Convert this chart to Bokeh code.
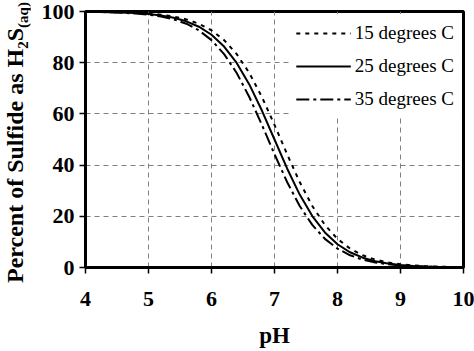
from bokeh.plotting import figure
from bokeh.layouts import row
from bokeh.models import Legend, LegendItem, Range1d, FixedTicker, Div
from bokeh.embed import file_html
from bokeh.resources import INLINE

# ---- data ----
ph = [4.0, 4.2, 4.4, 4.6, 4.8, 5.0, 5.2, 5.4, 5.6, 5.8, 6.0, 6.2, 6.4, 6.6, 6.8,
      7.0, 7.2, 7.4, 7.6, 7.8, 8.0, 8.2, 8.4, 8.6, 8.8, 9.0, 9.2, 9.4, 9.6, 9.8, 10.0]
pct_15 = [99.92, 99.87, 99.80, 99.68, 99.50, 99.21, 98.76, 98.04, 96.93, 95.23, 92.64,
          88.82, 83.37, 75.98, 66.61, 55.73, 44.27, 33.39, 24.02, 16.63, 11.18, 7.36,
          4.77, 3.07, 1.96, 1.24, 0.79, 0.50, 0.32, 0.20, 0.13]
pct_25 = [99.90, 99.84, 99.75, 99.60, 99.37, 99.01, 98.44, 97.55, 96.17, 94.06, 90.91,
          86.32, 79.92, 71.53, 61.31, 50.00, 38.69, 28.47, 20.08, 13.68, 9.09, 5.94,
          3.83, 2.45, 1.56, 0.99, 0.63, 0.40, 0.25, 0.16, 0.10]
pct_35 = [99.87, 99.80, 99.68, 99.50, 99.21, 98.76, 98.04, 96.93, 95.23, 92.64, 88.82,
          83.37, 75.98, 66.61, 55.73, 44.27, 33.39, 24.02, 16.63, 11.18, 7.36, 4.77,
          3.07, 1.96, 1.24, 0.79, 0.50, 0.32, 0.20, 0.13, 0.08]
series_names = ["15 degrees C", "25 degrees C", "35 degrees C"]
x_ticks = [4, 5, 6, 7, 8, 9, 10]
y_ticks = [0, 20, 40, 60, 80, 100]
x_title = "pH"
y_title_main = "Percent of Sulfide as H"
y_title_sub1 = "2"
y_title_mid = "S"
y_title_sub2 = "(aq)"

SERIF = "Liberation Serif"
LABEL_W = 30
H = 351

p = figure(width=474 - LABEL_W, height=H, output_backend="svg", toolbar_location=None,
           x_range=Range1d(4, 10), y_range=Range1d(0, 100),
           min_border_left=85 - LABEL_W, min_border_right=11, min_border_top=11,
           min_border_bottom=84)
p.background_fill_color = "white"
p.border_fill_color = "white"
p.outline_line_color = "black"
p.outline_line_width = 3

for ax in (p.xaxis[0], p.yaxis[0]):
    ax.axis_line_width = 3
    ax.axis_line_color = "black"
    ax.major_tick_out = 6
    ax.major_tick_in = 0
    ax.major_tick_line_width = 1.5
    ax.minor_tick_line_color = None
    ax.major_label_text_font = SERIF
    ax.major_label_text_font_style = "bold"
    ax.major_label_text_font_size = "22px"
    ax.major_label_text_color = "black"
p.xaxis.ticker = FixedTicker(ticks=x_ticks)
p.yaxis.ticker = FixedTicker(ticks=y_ticks)
p.xaxis.major_label_standoff = 18
p.yaxis.major_label_standoff = 5
p.xaxis.axis_label = x_title
p.xaxis.axis_label_text_font = SERIF
p.xaxis.axis_label_text_font_style = "bold"
p.xaxis.axis_label_text_font_size = "23px"
p.xaxis.axis_label_text_color = "black"
p.xaxis.axis_label_standoff = 14

p.xgrid.ticker = FixedTicker(ticks=x_ticks)
p.ygrid.ticker = FixedTicker(ticks=y_ticks)
for g in (p.xgrid[0], p.ygrid[0]):
    g.grid_line_color = "#808080"
    g.grid_line_width = 1
    g.grid_line_dash = "5 4"

r15 = p.line(ph, pct_15, line_color="black", line_width=2, line_dash="4 5")
r25 = p.line(ph, pct_25, line_color="black", line_width=2)
r35 = p.line(ph, pct_35, line_color="black", line_width=2, line_dash="13 4 3 4")

legend = Legend(items=[LegendItem(label=series_names[0], renderers=[r15]),
                       LegendItem(label=series_names[1], renderers=[r25]),
                       LegendItem(label=series_names[2], renderers=[r35])],
                location="top_right")
legend.margin = 3
legend.padding = 6
legend.spacing = 7
legend.glyph_width = 55
legend.glyph_height = 26
legend.label_height = 26
legend.label_standoff = 4
legend.label_text_font = SERIF
legend.label_text_font_size = "19px"
legend.label_text_color = "black"
legend.border_line_alpha = 0
legend.background_fill_color = "white"
legend.background_fill_alpha = 1
p.add_layout(legend)

# ---- rotated y title with real subscripts ----
font_css = "font-family:Liberation Serif,Times New Roman,serif;font-weight:bold;"
sub_style = "font-size:15px;vertical-align:-5px;line-height:0;"
title_html = (
    f'<div style="position:relative;width:{LABEL_W}px;height:{H}px;overflow:visible;{font_css}">'
    f'<div style="position:absolute;left:0;top:0;width:{H}px;height:30px;line-height:30px;'
    f'box-sizing:border-box;padding-left:{H - 283}px;white-space:nowrap;'
    f'transform-origin:0 0;transform:translate(0px,{H}px) rotate(-90deg);'
    f'{font_css}font-size:24px;color:black;">'
    f'{y_title_main}<span style="{sub_style}">{y_title_sub1}</span>'
    f'{y_title_mid}<span style="{sub_style}">{y_title_sub2}</span>'
    f'</div></div>'
)
ylab = Div(text=title_html, width=LABEL_W, height=H, margin=0,
           styles={"overflow": "visible", "font-family": "Liberation Serif, serif",
                   "font-weight": "bold"})

layout = row(ylab, p, spacing=0)
open("out.html", "w").write(file_html(layout, INLINE))
